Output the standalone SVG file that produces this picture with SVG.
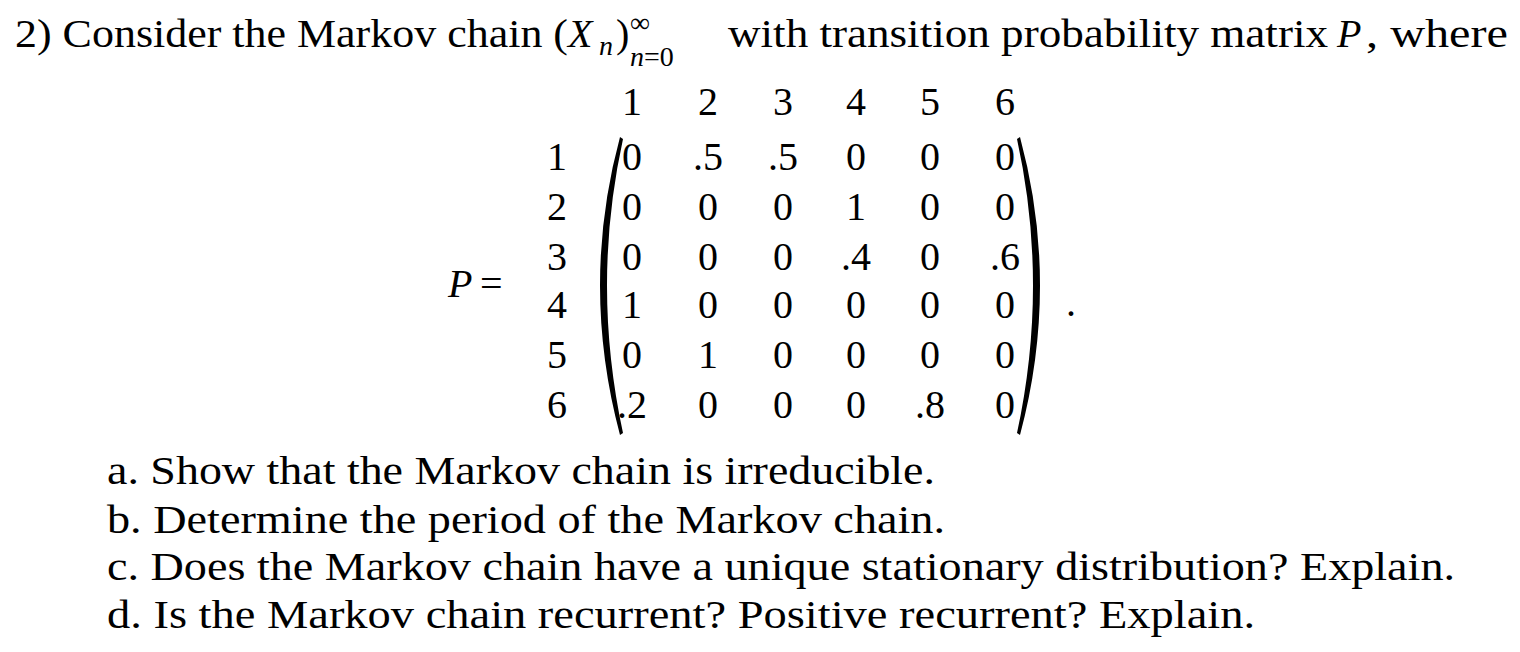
<svg xmlns="http://www.w3.org/2000/svg" width="1520" height="652" viewBox="0 0 1520 652">
<style>
text{font-family:"Liberation Serif","DejaVu Serif",serif;font-size:40px;fill:#000}
.i{font-style:italic}
.s{font-size:28px}
.m{text-anchor:middle}
</style>
<rect width="1520" height="652" fill="#fff"/>
<g id="title">
<text x="15" y="47" textLength="553" lengthAdjust="spacingAndGlyphs">2) Consider the Markov chain (</text>
<text x="568" y="47" class="i">X</text>
<text x="599" y="55" class="s i">n</text>
<text x="616" y="47">)</text>
<text x="630" y="32" class="s">∞</text>
<text x="630" y="66" class="s"><tspan font-style="italic">n</tspan>=0</text>
<text x="728" y="47" textLength="600" lengthAdjust="spacingAndGlyphs">with transition probability matrix</text>
<text x="1337" y="47" class="i">P</text>
<text x="1366" y="47" textLength="142" lengthAdjust="spacingAndGlyphs">, where</text>
</g>
<g id="matrix">
<g class="m">
<text x="632" y="115" text-anchor="middle">1</text><text x="708" y="115" text-anchor="middle">2</text><text x="783" y="115" text-anchor="middle">3</text><text x="856" y="115" text-anchor="middle">4</text><text x="930" y="115" text-anchor="middle">5</text><text x="1005" y="115" text-anchor="middle">6</text>
</g>
<g text-anchor="middle">
<text x="557" y="170" text-anchor="middle">1</text><text x="557" y="220" text-anchor="middle">2</text><text x="557" y="270" text-anchor="middle">3</text><text x="557" y="318" text-anchor="middle">4</text><text x="557" y="368" text-anchor="middle">5</text><text x="557" y="418" text-anchor="middle">6</text>
</g>
<text x="448" y="297" class="i">P</text><text x="480" y="297">=</text>
<path d="M620,137 Q580,285 620,435 L623,433 Q591,285 623,139 Z" fill="#000"/>
<path d="M1020,137 Q1060,285 1020,435 L1017,433 Q1049,285 1017,139 Z" fill="#000"/>
<g font-family="Liberation Serif,serif" font-size="40" text-anchor="middle">
<text x="632" y="170" text-anchor="middle">0</text><text x="708" y="170" text-anchor="middle">.5</text><text x="783" y="170" text-anchor="middle">.5</text><text x="856" y="170" text-anchor="middle">0</text><text x="930" y="170" text-anchor="middle">0</text><text x="1005" y="170" text-anchor="middle">0</text>
<text x="632" y="220" text-anchor="middle">0</text><text x="708" y="220" text-anchor="middle">0</text><text x="783" y="220" text-anchor="middle">0</text><text x="856" y="220" text-anchor="middle">1</text><text x="930" y="220" text-anchor="middle">0</text><text x="1005" y="220" text-anchor="middle">0</text>
<text x="632" y="270" text-anchor="middle">0</text><text x="708" y="270" text-anchor="middle">0</text><text x="783" y="270" text-anchor="middle">0</text><text x="856" y="270" text-anchor="middle">.4</text><text x="930" y="270" text-anchor="middle">0</text><text x="1005" y="270" text-anchor="middle">.6</text>
<text x="632" y="318" text-anchor="middle">1</text><text x="708" y="318" text-anchor="middle">0</text><text x="783" y="318" text-anchor="middle">0</text><text x="856" y="318" text-anchor="middle">0</text><text x="930" y="318" text-anchor="middle">0</text><text x="1005" y="318" text-anchor="middle">0</text>
<text x="632" y="368" text-anchor="middle">0</text><text x="708" y="368" text-anchor="middle">1</text><text x="783" y="368" text-anchor="middle">0</text><text x="856" y="368" text-anchor="middle">0</text><text x="930" y="368" text-anchor="middle">0</text><text x="1005" y="368" text-anchor="middle">0</text>
<text x="632" y="418" text-anchor="middle">.2</text><text x="708" y="418" text-anchor="middle">0</text><text x="783" y="418" text-anchor="middle">0</text><text x="856" y="418" text-anchor="middle">0</text><text x="930" y="418" text-anchor="middle">.8</text><text x="1005" y="418" text-anchor="middle">0</text>
</g>
<text x="1066" y="316">.</text>
</g>
<g id="questions">
<text x="107" y="484" textLength="828" lengthAdjust="spacingAndGlyphs">a. Show that the Markov chain is irreducible.</text>
<text x="107" y="533" textLength="838" lengthAdjust="spacingAndGlyphs">b. Determine the period of the Markov chain.</text>
<text x="107" y="580" textLength="1348" lengthAdjust="spacingAndGlyphs">c. Does the Markov chain have a unique stationary distribution? Explain.</text>
<text x="107" y="628" textLength="1148" lengthAdjust="spacingAndGlyphs">d. Is the Markov chain recurrent? Positive recurrent? Explain.</text>
</g>
</svg>
